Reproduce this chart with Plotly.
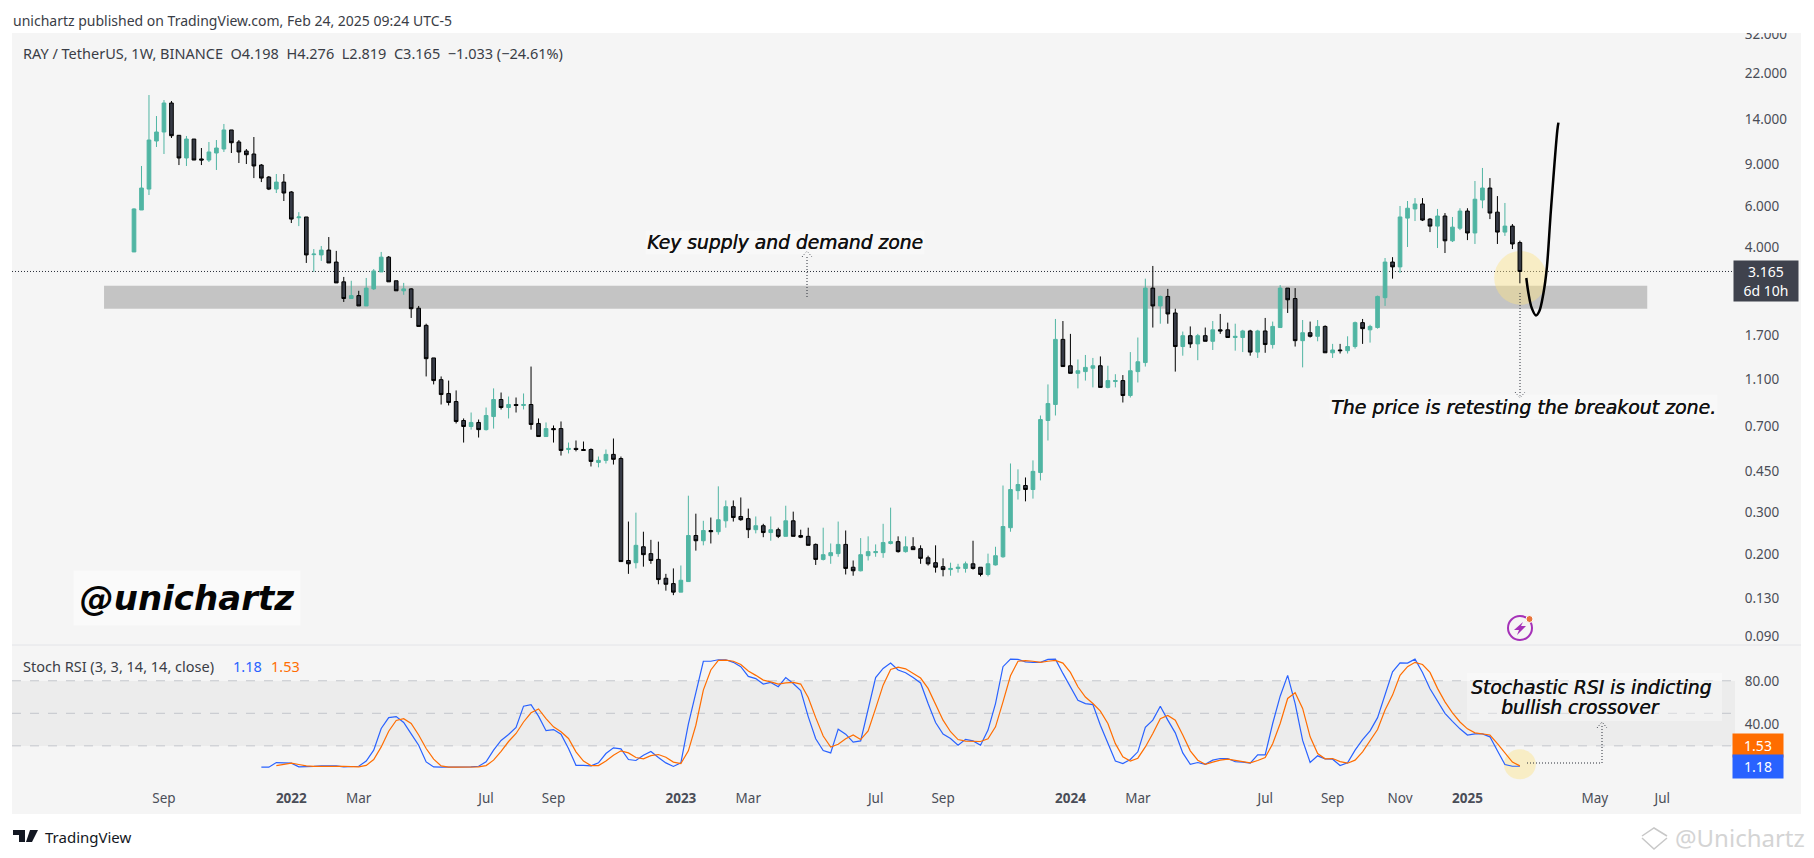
import pandas as pd
import plotly.graph_objects as go

# Weekly candles, RAY / USDT (prices)
weeks = pd.date_range("2021-08-09", periods=186, freq="7D")

open_ = [3.83, 5.77, 7.08, 11.32, 12.36, 16.41, 11.97, 9.59, 11.54, 9.50,
         9.40, 10.07, 10.47, 12.61, 11.21, 10.27, 9.97, 8.95, 7.96, 7.08,
         7.58, 6.88, 5.35, 5.39, 3.73, 3.72, 3.90, 3.47, 2.86, 2.43,
         2.50, 2.26, 2.67, 3.15, 3.64, 2.89, 2.62, 2.67, 2.21, 1.87,
         1.36, 1.10, 0.961, 0.888, 0.738, 0.696, 0.724, 0.675, 0.767, 0.906,
         0.838, 0.863, 0.855, 0.863, 0.717, 0.631, 0.682, 0.682, 0.556, 0.562,
         0.556, 0.556, 0.490, 0.500, 0.530, 0.509, 0.188, 0.184, 0.215, 0.201,
         0.190, 0.158, 0.150, 0.138, 0.153, 0.240, 0.228, 0.252, 0.249, 0.277,
         0.318, 0.289, 0.283, 0.254, 0.264, 0.247, 0.254, 0.238, 0.277, 0.240,
         0.238, 0.220, 0.190, 0.197, 0.201, 0.220, 0.176, 0.170, 0.197, 0.203,
         0.203, 0.222, 0.226, 0.205, 0.215, 0.211, 0.193, 0.184, 0.177, 0.172,
         0.174, 0.174, 0.182, 0.176, 0.164, 0.180, 0.195, 0.259, 0.372, 0.391,
         0.376, 0.444, 0.738, 0.863, 1.63, 1.26, 1.17, 1.19, 1.23, 1.26,
         1.02, 1.08, 1.09, 0.942, 1.19, 1.30, 2.69, 2.26, 2.48, 2.11,
         1.52, 1.69, 1.56, 1.69, 1.60, 1.79, 1.79, 1.66, 1.66, 1.77,
         1.44, 1.77, 1.55, 1.83, 2.69, 2.43, 1.61, 1.74, 1.68, 1.85,
         1.43, 1.47, 1.46, 1.52, 1.92, 1.79, 1.83, 2.45, 3.47, 3.31,
         5.33, 5.83, 6.12, 5.28, 4.93, 5.44, 4.27, 4.83, 5.71, 4.61,
         6.36, 7.15, 5.65, 4.65, 4.93, 4.198]

high = [5.87, 8.87, 17.74, 14.45, 16.89, 16.73, 12.0, 11.89, 11.54, 10.57,
        11.21, 11.43, 13.37, 12.61, 11.43, 10.47, 11.77, 9.04, 8.04, 8.20,
        8.20, 6.94, 5.65, 5.39, 3.94, 4.06, 4.43, 3.87, 3.00, 2.89,
        2.62, 2.97, 3.24, 3.83, 3.68, 2.89, 2.83, 2.69, 2.26, 1.90,
        1.36, 1.135, 1.09, 0.99, 0.753, 0.798, 0.745, 0.838, 1.01, 0.97,
        0.933, 0.924, 0.961, 1.25, 0.753, 0.724, 0.703, 0.731, 0.595, 0.607,
        0.601, 0.562, 0.519, 0.556, 0.619, 0.519, 0.275, 0.30, 0.249, 0.23,
        0.226, 0.165, 0.174, 0.179, 0.354, 0.297, 0.277, 0.286, 0.388, 0.338,
        0.338, 0.348, 0.312, 0.289, 0.269, 0.289, 0.259, 0.321, 0.303, 0.254,
        0.259, 0.222, 0.259, 0.222, 0.275, 0.252, 0.188, 0.234, 0.238, 0.220,
        0.269, 0.315, 0.238, 0.238, 0.236, 0.218, 0.197, 0.218, 0.192, 0.184,
        0.182, 0.186, 0.228, 0.176, 0.201, 0.215, 0.391, 0.485, 0.458, 0.423,
        0.50, 0.775, 1.05, 1.99, 1.95, 1.72, 1.34, 1.40, 1.36, 1.38,
        1.26, 1.16, 1.15, 1.44, 1.66, 2.95, 3.34, 2.50, 2.67, 2.20,
        1.76, 1.85, 1.72, 1.83, 1.95, 2.09, 1.92, 1.90, 1.79, 1.79,
        1.79, 2.01, 1.94, 2.77, 2.69, 2.69, 1.97, 1.94, 1.97, 1.87,
        1.56, 1.56, 1.68, 1.94, 1.99, 1.88, 2.50, 3.61, 3.64, 6.0,
        6.30, 6.48, 6.48, 5.33, 5.83, 5.60, 5.39, 5.87, 5.87, 7.66,
        8.70, 7.88, 6.61, 6.18, 5.03, 4.276]

low = [3.83, 5.77, 6.68, 10.68, 9.97, 11.66, 8.95, 8.87, 9.40, 8.95,
       9.22, 8.53, 10.17, 10.07, 9.13, 9.04, 7.88, 7.58, 7.01, 6.81,
       6.30, 5.08, 4.93, 3.44, 3.15, 3.51, 3.44, 2.83, 2.35, 2.43,
       2.26, 2.26, 2.64, 3.15, 2.86, 2.62, 2.52, 2.01, 1.85, 1.135,
       1.05, 0.863, 0.855, 0.717, 0.595, 0.675, 0.625, 0.669, 0.682, 0.822,
       0.753, 0.798, 0.822, 0.675, 0.631, 0.631, 0.595, 0.524, 0.535, 0.546,
       0.551, 0.471, 0.467, 0.485, 0.48, 0.186, 0.165, 0.174, 0.177, 0.182,
       0.149, 0.14, 0.134, 0.138, 0.153, 0.207, 0.218, 0.222, 0.242, 0.259,
       0.275, 0.277, 0.234, 0.245, 0.236, 0.228, 0.234, 0.238, 0.238, 0.234,
       0.218, 0.18, 0.188, 0.182, 0.195, 0.164, 0.162, 0.169, 0.188, 0.195,
       0.193, 0.22, 0.203, 0.203, 0.209, 0.182, 0.179, 0.167, 0.161, 0.162,
       0.167, 0.167, 0.172, 0.161, 0.161, 0.179, 0.193, 0.249, 0.341, 0.335,
       0.344, 0.411, 0.607, 0.775, 1.25, 1.17, 1.01, 1.09, 1.02, 1.02,
       1.01, 1.02, 0.88, 0.924, 1.07, 1.25, 1.83, 1.90, 1.90, 1.19,
       1.39, 1.50, 1.33, 1.60, 1.47, 1.72, 1.66, 1.46, 1.44, 1.39,
       1.36, 1.43, 1.49, 1.83, 2.11, 1.52, 1.24, 1.66, 1.60, 1.43,
       1.36, 1.42, 1.42, 1.49, 1.56, 1.58, 1.81, 2.26, 2.95, 3.12,
       4.02, 5.18, 5.18, 4.65, 3.98, 3.79, 4.22, 4.74, 4.30, 4.14,
       5.87, 5.28, 4.14, 4.48, 3.94, 2.819]

close = [5.83, 7.15, 11.43, 12.36, 16.41, 11.92, 9.59, 11.54, 9.40, 9.40,
         10.17, 10.57, 12.61, 11.13, 10.17, 9.90, 8.87, 7.88, 7.08, 7.58,
         6.81, 5.28, 5.39, 3.72, 3.75, 3.90, 3.44, 2.83, 2.43, 2.50,
         2.26, 2.69, 3.18, 3.64, 2.86, 2.62, 2.67, 2.20, 1.85, 1.35,
         1.09, 0.951, 0.880, 0.731, 0.696, 0.724, 0.675, 0.775, 0.906, 0.838,
         0.863, 0.855, 0.863, 0.71, 0.631, 0.682, 0.675, 0.551, 0.562, 0.556,
         0.551, 0.495, 0.50, 0.53, 0.505, 0.186, 0.182, 0.218, 0.199, 0.188,
         0.156, 0.149, 0.138, 0.155, 0.24, 0.228, 0.252, 0.249, 0.28, 0.318,
         0.286, 0.28, 0.254, 0.264, 0.247, 0.254, 0.238, 0.277, 0.238, 0.236,
         0.218, 0.19, 0.199, 0.203, 0.22, 0.174, 0.17, 0.199, 0.205, 0.205,
         0.224, 0.226, 0.205, 0.215, 0.209, 0.192, 0.182, 0.176, 0.172, 0.174,
         0.176, 0.182, 0.174, 0.164, 0.182, 0.197, 0.262, 0.376, 0.395, 0.376,
         0.449, 0.745, 0.871, 1.63, 1.25, 1.17, 1.20, 1.24, 1.26, 1.02,
         1.09, 1.09, 0.942, 1.20, 1.31, 2.69, 2.26, 2.48, 2.09, 1.52,
         1.69, 1.56, 1.69, 1.60, 1.79, 1.77, 1.66, 1.68, 1.77, 1.44,
         1.77, 1.55, 1.85, 2.69, 2.40, 1.61, 1.74, 1.68, 1.85, 1.43,
         1.47, 1.46, 1.52, 1.92, 1.81, 1.85, 2.48, 3.47, 3.31, 5.39,
         5.87, 6.12, 5.23, 4.93, 5.44, 4.27, 4.88, 5.71, 4.61, 6.41,
         7.15, 5.60, 4.65, 4.93, 4.14, 3.165]

# Stoch RSI lines, %K starts at week 17 and %D at week 19
stoch_k = [0.3, 0.3, 4.6, 4.6, 4, 0.6, 0.6, 1, 1.5, 1.8, 1.5, 0.6, 0.6,
           1.2, 6, 16, 36, 46, 47, 41.5, 31, 20.6, 5.2,
           0.6, 0.3, 0.3, 0.3, 0.3, 0.6, 1.2, 5.2, 16, 25,
           30.5, 37, 56.6, 58, 47.4, 34, 35, 30.8, 17.5, 2,
           2, 1.5, 4.3, 12.9, 18.2, 17.2, 7.4, 6.5, 11.4, 14.8,
           9.2, 4.3, 1, 4.3, 40, 68.3, 98, 98, 99.4, 99.4,
           97, 93, 84, 82, 77, 78.5, 74.5, 83, 77.5, 71,
           47, 26.5, 15.7, 13.5, 35.4, 30.8, 23.4, 24.6, 53, 83,
           91.4, 96.3, 90, 87.4, 83, 78, 59, 41.5, 30.8, 26.8,
           20.6, 26, 24.6, 20.6, 34.5, 59, 93, 100, 99.7, 97.5,
           97, 97, 99.7, 100, 86.8, 74.5, 62, 59, 58, 39,
           22, 6, 3.7, 7.4, 14.5, 37, 43.7, 56.6, 43.7, 32,
           13.5, 3, 4.6, 3, 6.8, 8.3, 8.3, 5.5, 5, 4,
           11.7, 11.7, 40.6, 65.8, 85, 59, 25, 4.6, 10.8, 8,
           7.7, 1.8, 4.3, 16, 25.8, 33.8, 46, 68, 88.3, 96.6,
           96.3, 100, 87.7, 72.6, 61, 50, 42.5, 35.7, 30, 31,
           31, 28.3, 15.4, 2.8, 1.2, 1.18]

stoch_d = [1.8, 3, 4, 2.8, 1.5, 1, 1.2, 1.2, 1.5, 1.2, 0.9,
           0.6, 2, 7.4, 19, 33.5, 43.4, 45, 40.6, 30, 17.5,
           7.7, 1.5, 0.3, 0.3, 0.3, 0.3, 0.6, 1.8, 6.8, 15,
           24, 31.4, 42, 50.5, 54, 45, 37.5, 33, 26.8, 14.5,
           6, 1.8, 1.8, 6, 11.4, 15.4, 13.5, 9.2, 8, 11,
           12, 9.5, 5, 3.7, 15.4, 39, 71.4, 90, 98.8, 99,
           98, 95, 89, 85, 80.6, 79, 77, 78, 78.5, 77,
           64.6, 46, 29, 18.8, 21.5, 26.5, 30, 25.8, 33.8, 54.5,
           76, 90.5, 92.6, 91, 86.8, 82.5, 73, 59, 43.7, 33,
           25.8, 24.3, 24, 24, 26.5, 37.5, 60.6, 84.6, 98, 98.5,
           98, 97, 98, 98.8, 96.3, 87.7, 74.5, 65, 59, 52,
           40.6, 22, 9.8, 6, 8.6, 19, 31.4, 45, 48, 43.7,
           30, 15.4, 6.8, 3, 5, 6.8, 7.7, 6.8, 5.8, 4.3,
           6.5, 9.2, 22, 40.6, 63.7, 69, 54.5, 28.3, 12.9, 8,
           8.3, 5.5, 4, 6.8, 14.5, 25, 35, 53, 66.8, 85,
           93, 97, 95, 87.7, 73, 60.6, 50.5, 42, 35.7, 32,
           31, 30, 22, 13, 5, 1.53]

# The hand drawn projection curve
path_dates = ["2025-03-02", "2025-03-04", "2025-03-07", "2025-03-11", "2025-03-14",
              "2025-03-18", "2025-03-21", "2025-03-25", "2025-03-31", "2025-04-01"]
path_prices = [2.97, 2.56, 2.22, 2.06, 2.14, 2.56, 3.22, 5.77, 12.6, 13.55]

price_ticks = [32, 22, 14, 9, 6, 4, 1.7, 1.1, 0.7, 0.45, 0.3, 0.2, 0.13, 0.09]
price_labels = ["32.000", "22.000", "14.000", "9.000", "6.000", "4.000", "1.700",
                "1.100", "0.700", "0.450", "0.300", "0.200", "0.130", "0.090"]

date_ticks = ["2021-09-06", "2022-01-03", "2022-03-07", "2022-07-04", "2022-09-05",
              "2023-01-02", "2023-03-06", "2023-07-03", "2023-09-04", "2024-01-01",
              "2024-03-04", "2024-07-01", "2024-09-02", "2024-11-04", "2025-01-06",
              "2025-05-05", "2025-07-07"]
date_labels = ["Sep", "<b>2022</b>", "Mar", "Jul", "Sep", "<b>2023</b>", "Mar", "Jul", "Sep",
               "<b>2024</b>", "Mar", "Jul", "Sep", "Nov", "<b>2025</b>", "May", "Jul"]

zone_low = 2.20
zone_high = 2.75
last_price = 3.165

FONT = "Noto Sans"
NOTE_FONT = "DejaVu Sans"
PANEL = "#f5f5f5"
TEAL = "#50b5a3"
DARK = "#363a45"
BLUE = "#2962ff"
ORANGE = "#ff6d00"
GREY_TEXT = "#4a4d57"
DOT = "1px,2px"
THICK = "0.4px 0 0 #111111"

# The browser puts the figure 8px in from the page corner
BODY = 8
FIG_W = 1806
FIG_H = 850

# Page pixels of the plot area, used to place notes and decorations
LEFT, RIGHT, TOP, BOTTOM = 12, 1735, 33, 780
SPLIT = 645


def px(x):
    return (x - LEFT) / (RIGHT - LEFT)


def py(y):
    return (BOTTOM - y) / (BOTTOM - TOP)


def note(x, y, text, size=13, color=GREY_TEXT, family=FONT, anchor="left", shadow=None, **kw):
    fig.add_annotation(x=px(x), y=py(y), xref="paper", yref="paper", text=text, showarrow=False,
                       xanchor=anchor, yanchor="middle", align=anchor,
                       font=dict(size=size, color=color, family=family, shadow=shadow), **kw)


def axis_box(x, y, text, width, height, color, align="center", size=13):
    fig.add_annotation(x=px(x), y=py(y), xref="paper", yref="paper", text=text, showarrow=False,
                       xanchor="center", yanchor="middle", align=align, width=width, height=height,
                       bgcolor=color, font=dict(size=size, color="#ffffff", family=FONT))


def paper_rect(x0, y0, x1, y1, color, layer="below"):
    fig.add_shape(type="rect", xref="paper", yref="paper", x0=px(x0), x1=px(x1), y0=py(y0), y1=py(y1),
                  fillcolor=color, line_width=0, layer=layer)


def dotted(points):
    # dotted guide through page pixel points
    for (x0, y0), (x1, y1) in zip(points[:-1], points[1:]):
        fig.add_shape(type="line", xref="paper", yref="paper", x0=px(x0), x1=px(x1), y0=py(y0), y1=py(y1),
                      line=dict(color="#2a2e39", width=1, dash=DOT))


def arrow_head(x, y, direction):
    # direction: -1 points up, 1 points down
    d = "M {} {} L {} {} L {} {}".format(px(x - 5), py(y - direction * 6), px(x), py(y), px(x + 5), py(y - direction * 6))
    fig.add_shape(type="path", xref="paper", yref="paper", path=d, line=dict(color="#2a2e39", width=1, dash=DOT))


fig = go.Figure()

# Panel behind everything
paper_rect(12, 33, 1801, 814, PANEL)

fig.add_trace(go.Candlestick(x=weeks, open=open_, high=high, low=low, close=close, name="RAY",
                             whiskerwidth=0, yaxis="y", xaxis="x",
                             increasing=dict(line=dict(color=TEAL, width=1), fillcolor=TEAL),
                             decreasing=dict(line=dict(color="#000000", width=1), fillcolor=DARK)))

fig.add_trace(go.Scatter(x=path_dates, y=path_prices, mode="lines", yaxis="y", xaxis="x",
                         line=dict(color="#000000", width=2.5, shape="spline"), name="path"))

fig.add_trace(go.Scatter(x=weeks[17:], y=stoch_k, mode="lines", yaxis="y2", xaxis="x",
                         line=dict(color=BLUE, width=1.2), name="K"))
fig.add_trace(go.Scatter(x=weeks[19:], y=stoch_d, mode="lines", yaxis="y2", xaxis="x",
                         line=dict(color=ORANGE, width=1.2), name="D"))

# Supply and demand zone and current price line
fig.add_shape(type="rect", xref="x", yref="y", x0="2021-07-12", x1="2025-06-23", y0=zone_low, y1=zone_high,
              fillcolor="#c4c4c4", line_width=0, layer="below")
fig.add_shape(type="line", xref="paper", yref="y", x0=0, x1=1, y0=last_price, y1=last_price,
              line=dict(color="#2a2e39", width=1, dash=DOT), layer="below")

# Yellow highlight circles
fig.add_shape(type="circle", xref="x", yref="y", x0="2025-01-31", x1="2025-03-21", y0=2.285, y1=3.865,
              fillcolor="rgba(252,226,130,0.42)", line_width=0, layer="below")
fig.add_shape(type="circle", xref="x", yref="y2", xsizemode="pixel", ysizemode="pixel",
              xanchor="2025-02-24", yanchor=3, x0=-16, x1=16, y0=-15, y1=15,
              fillcolor="rgba(252,226,130,0.42)", line_width=0, layer="below")

# Stoch RSI band
paper_rect(12, 681, 1735, 746, "#ececec")
for level in [80, 50, 20]:
    fig.add_shape(type="line", xref="paper", yref="y2", x0=0, x1=1, y0=level, y1=level,
                  line=dict(color="#c4c6cc", width=1, dash="dash"), layer="below")

# Pane separator
fig.add_shape(type="line", xref="paper", yref="paper", x0=px(12), x1=px(1801), y0=py(SPLIT), y1=py(SPLIT),
              line=dict(color="#e3e4e8", width=1))

# Dotted guides
dotted([(807, 297), (807, 256)])
arrow_head(807, 251, -1)
dotted([(1520, 293), (1520, 396)])
arrow_head(1520, 398, 1)
dotted([(1527, 763), (1602, 763), (1602, 724)])
arrow_head(1602, 722, -1)

# Cover the clipped top of the 32.000 label
paper_rect(1735, 0, 1814, 33, "#ffffff", layer="above")

# Header and legends
note(11, 20, "unichartz published on TradingView.com, Feb 24, 2025 09:24 UTC-5", size=14, color="#3a3d46")
note(21, 53, "RAY / TetherUS, 1W, BINANCE\u00a0\u00a0O4.198\u00a0\u00a0H4.276\u00a0\u00a0L2.819\u00a0\u00a0C3.165\u00a0\u00a0−1.033 (−24.61%)",
     size=14.5, color="#3a3d46")
note(21, 666, "Stoch RSI (3, 3, 14, 14, close)", size=14.5, color="#3a3d46")
note(231, 666, "1.18", size=14.5, color=BLUE)
note(269, 666, "1.53", size=14.5, color=ORANGE)

# Notes written on the chart
note(645, 242, "<i>Key supply and demand zone</i>", size=18.7, color="#111111", family=NOTE_FONT,
     shadow=THICK, bgcolor="rgba(255,255,255,0.35)")
note(1329, 407, "<i>The price is retesting the breakout zone.</i>", size=18.9, color="#111111", family=NOTE_FONT,
     shadow=THICK, bgcolor="rgba(255,255,255,0.35)")
paper_rect(1467, 673, 1722, 721, "rgba(255,255,255,0.35)", layer="above")
note(1591, 687, "<i>Stochastic RSI is indicting</i>", size=18.7, color="#111111", family=NOTE_FONT, anchor="center", shadow=THICK)
note(1580, 707, "<i>bullish crossover</i>", size=18.7, color="#111111", family=NOTE_FONT, anchor="center", shadow=THICK)
fig.add_annotation(x=px(186.5), y=py(598), xref="paper", yref="paper", text="<b><i>@unichartz</i></b>", showarrow=False,
                   xanchor="center", yanchor="middle", width=224, height=52, bgcolor="#fafafa",
                   font=dict(size=34, color="#050505", family=NOTE_FONT))

# Last value labels on the axis
axis_box(1766, 281, "3.165<br>6d 10h", 62, 38, "#3f424d", size=14)
axis_box(1758, 745.5, "1.53", 48, 21, ORANGE, size=14)
axis_box(1758, 766.5, "1.18", 48, 21, BLUE, size=14)

# Icon near the bottom of the price pane
fig.add_shape(type="circle", xref="paper", yref="paper", x0=px(1508), x1=px(1532), y0=py(640), y1=py(616),
              line=dict(color="#a531b8", width=2))
fig.add_shape(type="path", xref="paper", yref="paper", fillcolor="#a531b8", line_width=0,
              path="M {} {} L {} {} L {} {} L {} {} L {} {} L {} {} Z".format(
                  px(1523), py(622), px(1514), py(630), px(1519), py(630),
                  px(1517), py(635), px(1526), py(626), px(1521), py(626)))
fig.add_shape(type="circle", xref="paper", yref="paper", x0=px(1526), x1=px(1533), y0=py(622.5), y1=py(615.5),
              fillcolor="#e8743b", line=dict(color="#ffffff", width=1))

# TradingView logo and the watermark
fig.add_shape(type="path", xref="paper", yref="paper", fillcolor="#131722", line_width=0,
              path="M {} {} L {} {} L {} {} L {} {} L {} {} L {} {} Z".format(
                  px(13), py(830), px(25), py(830), px(25), py(842), px(19), py(842), px(19), py(835), px(13), py(835)))
fig.add_shape(type="path", xref="paper", yref="paper", fillcolor="#131722", line_width=0,
              path="M {} {} L {} {} L {} {} L {} {} Z".format(
                  px(30), py(830), px(38), py(830), px(32), py(842), px(26), py(842)))
note(43, 837, "TradingView", size=15, color="#131722")
note(1673, 837, "@Unichartz", size=24, color="#d4d4d4")
fig.add_shape(type="path", xref="paper", yref="paper", line=dict(color="#c8c8c8", width=1.5),
              path="M {} {} L {} {} L {} {} M {} {} L {} {} L {} {}".format(
                  px(1642), py(836), px(1654), py(828), px(1667), py(836),
                  px(1642), py(838), px(1654), py(849), px(1667), py(838)))

fig.update_layout(
    width=FIG_W, height=FIG_H, autosize=False,
    paper_bgcolor="#ffffff", plot_bgcolor=PANEL,
    margin=dict(l=LEFT - BODY, r=BODY + FIG_W - RIGHT, t=TOP - BODY, b=BODY + FIG_H - BOTTOM, pad=0),
    showlegend=False,
    font=dict(family=FONT, color=GREY_TEXT, size=13),
    xaxis=dict(type="date", range=["2021-04-17", "2025-09-13"], anchor="y2", domain=[0, 1],
               rangeslider=dict(visible=False), showgrid=False, zeroline=False,
               tickmode="array", tickvals=date_ticks, ticktext=date_labels,
               ticks="outside", ticklen=6, tickcolor="rgba(0,0,0,0)", showline=False,
               tickfont=dict(size=13.5, color=GREY_TEXT)),
    yaxis=dict(type="log", domain=[(BOTTOM - SPLIT) / (BOTTOM - TOP), 1], range=[-1.0844, 1.5121],
               side="right", anchor="x", showgrid=False, zeroline=False, showline=False,
               tickmode="array", tickvals=price_ticks, ticktext=price_labels,
               ticks="outside", ticklen=6, tickcolor="rgba(0,0,0,0)",
               tickfont=dict(size=13.5, color=GREY_TEXT)),
    yaxis2=dict(domain=[0, (BOTTOM - SPLIT) / (BOTTOM - TOP)], range=[-11.5, 113],
                side="right", anchor="x", showgrid=False, zeroline=False, showline=False,
                tickmode="array", tickvals=[80, 40], ticktext=["80.00", "40.00"],
                ticks="outside", ticklen=6, tickcolor="rgba(0,0,0,0)",
                tickfont=dict(size=13.5, color=GREY_TEXT)),
)

fig.write_html("out.html")
